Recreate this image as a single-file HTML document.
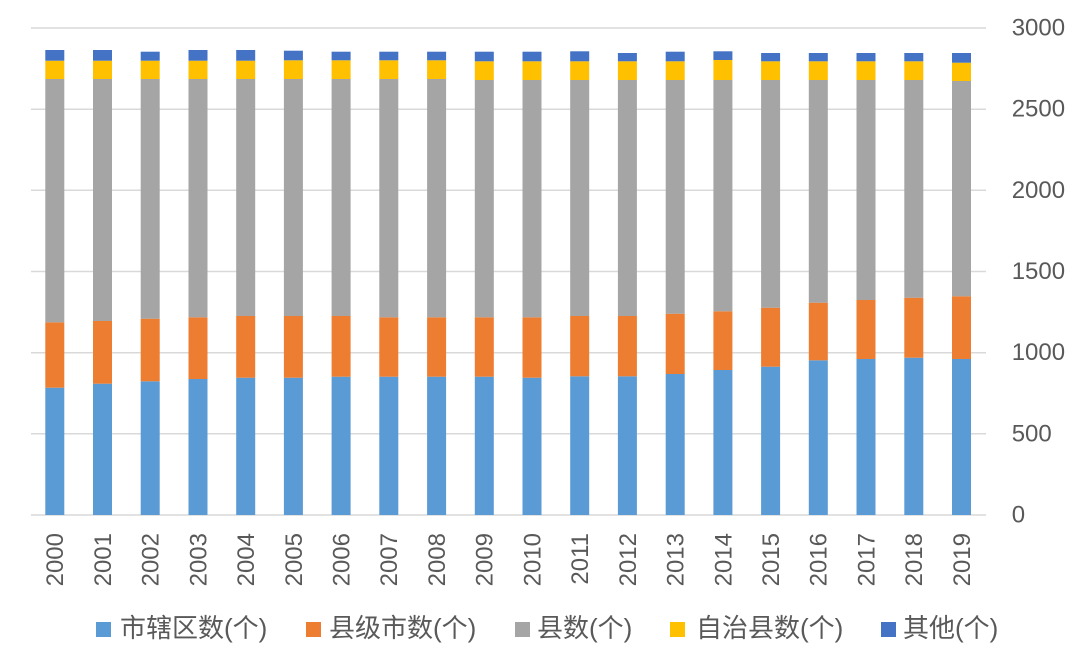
<!DOCTYPE html>
<html>
<head>
<meta charset="utf-8">
<style>
html,body{margin:0;padding:0;background:#fff;}
svg{display:block;}
text{font-family:"Liberation Sans","Noto Sans CJK SC",sans-serif;fill:#595959;}
</style>
</head>
<body>
<svg width="1080" height="672" viewBox="0 0 1080 672" xmlns="http://www.w3.org/2000/svg">
<rect width="1080" height="672" fill="#fff"/>
<g stroke="#d9d9d9" stroke-width="1.5">
<line x1="31" y1="28" x2="986" y2="28"/>
<line x1="31" y1="109.2" x2="986" y2="109.2"/>
<line x1="31" y1="190.3" x2="986" y2="190.3"/>
<line x1="31" y1="271.5" x2="986" y2="271.5"/>
<line x1="31" y1="352.7" x2="986" y2="352.7"/>
<line x1="31" y1="433.8" x2="986" y2="433.8"/>
<line x1="31" y1="515" x2="986" y2="515"/>
</g>
<g font-size="24" dominant-baseline="central">
<text x="1011.7" y="28">3000</text>
<text x="1011.7" y="109.2">2500</text>
<text x="1011.7" y="190.3">2000</text>
<text x="1011.7" y="271.5">1500</text>
<text x="1011.7" y="352.7">1000</text>
<text x="1011.7" y="433.8">500</text>
<text x="1011.7" y="515">0</text>
</g>
<g>
<!-- 2000 -->
<rect x="45.3" y="387.7" width="19" height="127.3" fill="#5b9bd5"/>
<rect x="45.3" y="322.3" width="19" height="65.4" fill="#ed7d31"/>
<rect x="45.3" y="79" width="19" height="243.3" fill="#a5a5a5"/>
<rect x="45.3" y="60.7" width="19" height="18.3" fill="#ffc000"/>
<rect x="45.3" y="50" width="19" height="10.7" fill="#4472c4"/>
<!-- 2001 -->
<rect x="93" y="383.7" width="19" height="131.3" fill="#5b9bd5"/>
<rect x="93" y="321" width="19" height="62.7" fill="#ed7d31"/>
<rect x="93" y="79" width="19" height="242" fill="#a5a5a5"/>
<rect x="93" y="60.7" width="19" height="18.3" fill="#ffc000"/>
<rect x="93" y="50" width="19" height="10.7" fill="#4472c4"/>
<!-- 2002 -->
<rect x="140.7" y="381.3" width="19" height="133.7" fill="#5b9bd5"/>
<rect x="140.7" y="318.7" width="19" height="62.6" fill="#ed7d31"/>
<rect x="140.7" y="79" width="19" height="239.7" fill="#a5a5a5"/>
<rect x="140.7" y="60.7" width="19" height="18.3" fill="#ffc000"/>
<rect x="140.7" y="51.7" width="19" height="9" fill="#4472c4"/>
<!-- 2003 -->
<rect x="188.5" y="379" width="19" height="136" fill="#5b9bd5"/>
<rect x="188.5" y="317.3" width="19" height="61.7" fill="#ed7d31"/>
<rect x="188.5" y="79" width="19" height="238.3" fill="#a5a5a5"/>
<rect x="188.5" y="60.7" width="19" height="18.3" fill="#ffc000"/>
<rect x="188.5" y="50" width="19" height="10.7" fill="#4472c4"/>
<!-- 2004 -->
<rect x="236.2" y="377.7" width="19" height="137.3" fill="#5b9bd5"/>
<rect x="236.2" y="316" width="19" height="61.7" fill="#ed7d31"/>
<rect x="236.2" y="79" width="19" height="237" fill="#a5a5a5"/>
<rect x="236.2" y="60.7" width="19" height="18.3" fill="#ffc000"/>
<rect x="236.2" y="50" width="19" height="10.7" fill="#4472c4"/>
<!-- 2005 -->
<rect x="283.9" y="377.7" width="19" height="137.3" fill="#5b9bd5"/>
<rect x="283.9" y="316" width="19" height="61.7" fill="#ed7d31"/>
<rect x="283.9" y="79" width="19" height="237" fill="#a5a5a5"/>
<rect x="283.9" y="60.3" width="19" height="18.7" fill="#ffc000"/>
<rect x="283.9" y="50.7" width="19" height="9.6" fill="#4472c4"/>
<!-- 2006 -->
<rect x="331.6" y="376.7" width="19" height="138.3" fill="#5b9bd5"/>
<rect x="331.6" y="316" width="19" height="60.7" fill="#ed7d31"/>
<rect x="331.6" y="79" width="19" height="237" fill="#a5a5a5"/>
<rect x="331.6" y="60.3" width="19" height="18.7" fill="#ffc000"/>
<rect x="331.6" y="51.7" width="19" height="8.6" fill="#4472c4"/>
<!-- 2007 -->
<rect x="379.3" y="376.7" width="19" height="138.3" fill="#5b9bd5"/>
<rect x="379.3" y="317.3" width="19" height="59.4" fill="#ed7d31"/>
<rect x="379.3" y="79" width="19" height="238.3" fill="#a5a5a5"/>
<rect x="379.3" y="60.3" width="19" height="18.7" fill="#ffc000"/>
<rect x="379.3" y="51.7" width="19" height="8.6" fill="#4472c4"/>
<!-- 2008 -->
<rect x="427.1" y="376.7" width="19" height="138.3" fill="#5b9bd5"/>
<rect x="427.1" y="317.3" width="19" height="59.4" fill="#ed7d31"/>
<rect x="427.1" y="79" width="19" height="238.3" fill="#a5a5a5"/>
<rect x="427.1" y="60.3" width="19" height="18.7" fill="#ffc000"/>
<rect x="427.1" y="51.7" width="19" height="8.6" fill="#4472c4"/>
<!-- 2009 -->
<rect x="474.8" y="376.7" width="19" height="138.3" fill="#5b9bd5"/>
<rect x="474.8" y="317.3" width="19" height="59.4" fill="#ed7d31"/>
<rect x="474.8" y="80" width="19" height="237.3" fill="#a5a5a5"/>
<rect x="474.8" y="61.3" width="19" height="18.7" fill="#ffc000"/>
<rect x="474.8" y="51.7" width="19" height="9.6" fill="#4472c4"/>
<!-- 2010 -->
<rect x="522.5" y="377.7" width="19" height="137.3" fill="#5b9bd5"/>
<rect x="522.5" y="317.3" width="19" height="60.4" fill="#ed7d31"/>
<rect x="522.5" y="80" width="19" height="237.3" fill="#a5a5a5"/>
<rect x="522.5" y="61.3" width="19" height="18.7" fill="#ffc000"/>
<rect x="522.5" y="51.7" width="19" height="9.6" fill="#4472c4"/>
<!-- 2011 -->
<rect x="570.2" y="376.3" width="19" height="138.7" fill="#5b9bd5"/>
<rect x="570.2" y="316" width="19" height="60.3" fill="#ed7d31"/>
<rect x="570.2" y="80" width="19" height="236" fill="#a5a5a5"/>
<rect x="570.2" y="61.3" width="19" height="18.7" fill="#ffc000"/>
<rect x="570.2" y="51.3" width="19" height="10" fill="#4472c4"/>
<!-- 2012 -->
<rect x="617.9" y="376.3" width="19" height="138.7" fill="#5b9bd5"/>
<rect x="617.9" y="316" width="19" height="60.3" fill="#ed7d31"/>
<rect x="617.9" y="80" width="19" height="236" fill="#a5a5a5"/>
<rect x="617.9" y="61.3" width="19" height="18.7" fill="#ffc000"/>
<rect x="617.9" y="53" width="19" height="8.3" fill="#4472c4"/>
<!-- 2013 -->
<rect x="665.7" y="374" width="19" height="141" fill="#5b9bd5"/>
<rect x="665.7" y="313.7" width="19" height="60.3" fill="#ed7d31"/>
<rect x="665.7" y="80" width="19" height="233.7" fill="#a5a5a5"/>
<rect x="665.7" y="61.3" width="19" height="18.7" fill="#ffc000"/>
<rect x="665.7" y="51.7" width="19" height="9.6" fill="#4472c4"/>
<!-- 2014 -->
<rect x="713.4" y="370" width="19" height="145" fill="#5b9bd5"/>
<rect x="713.4" y="311.3" width="19" height="58.7" fill="#ed7d31"/>
<rect x="713.4" y="80" width="19" height="231.3" fill="#a5a5a5"/>
<rect x="713.4" y="60" width="19" height="20" fill="#ffc000"/>
<rect x="713.4" y="51.3" width="19" height="8.7" fill="#4472c4"/>
<!-- 2015 -->
<rect x="761.1" y="366.7" width="19" height="148.3" fill="#5b9bd5"/>
<rect x="761.1" y="307.7" width="19" height="59" fill="#ed7d31"/>
<rect x="761.1" y="80" width="19" height="227.7" fill="#a5a5a5"/>
<rect x="761.1" y="61.3" width="19" height="18.7" fill="#ffc000"/>
<rect x="761.1" y="53" width="19" height="8.3" fill="#4472c4"/>
<!-- 2016 -->
<rect x="808.8" y="360.3" width="19" height="154.7" fill="#5b9bd5"/>
<rect x="808.8" y="302.7" width="19" height="57.6" fill="#ed7d31"/>
<rect x="808.8" y="80" width="19" height="222.7" fill="#a5a5a5"/>
<rect x="808.8" y="61.3" width="19" height="18.7" fill="#ffc000"/>
<rect x="808.8" y="53" width="19" height="8.3" fill="#4472c4"/>
<!-- 2017 -->
<rect x="856.5" y="359" width="19" height="156" fill="#5b9bd5"/>
<rect x="856.5" y="300" width="19" height="59" fill="#ed7d31"/>
<rect x="856.5" y="80" width="19" height="220" fill="#a5a5a5"/>
<rect x="856.5" y="61.3" width="19" height="18.7" fill="#ffc000"/>
<rect x="856.5" y="53" width="19" height="8.3" fill="#4472c4"/>
<!-- 2018 -->
<rect x="904.3" y="357.7" width="19" height="157.3" fill="#5b9bd5"/>
<rect x="904.3" y="297.7" width="19" height="60" fill="#ed7d31"/>
<rect x="904.3" y="80" width="19" height="217.7" fill="#a5a5a5"/>
<rect x="904.3" y="61.3" width="19" height="18.7" fill="#ffc000"/>
<rect x="904.3" y="53" width="19" height="8.3" fill="#4472c4"/>
<!-- 2019 -->
<rect x="952" y="359" width="19" height="156" fill="#5b9bd5"/>
<rect x="952" y="296.3" width="19" height="62.7" fill="#ed7d31"/>
<rect x="952" y="81" width="19" height="215.3" fill="#a5a5a5"/>
<rect x="952" y="62.7" width="19" height="18.3" fill="#ffc000"/>
<rect x="952" y="53" width="19" height="9.7" fill="#4472c4"/>
</g>
<g font-size="24" text-anchor="end">
<text transform="translate(63.2,533) rotate(-90)">2000</text>
<text transform="translate(110.9,533) rotate(-90)">2001</text>
<text transform="translate(158.6,533) rotate(-90)">2002</text>
<text transform="translate(206.4,533) rotate(-90)">2003</text>
<text transform="translate(254.1,533) rotate(-90)">2004</text>
<text transform="translate(301.8,533) rotate(-90)">2005</text>
<text transform="translate(349.5,533) rotate(-90)">2006</text>
<text transform="translate(397.2,533) rotate(-90)">2007</text>
<text transform="translate(445,533) rotate(-90)">2008</text>
<text transform="translate(492.7,533) rotate(-90)">2009</text>
<text transform="translate(540.4,533) rotate(-90)">2010</text>
<text transform="translate(588.1,533) rotate(-90)">2011</text>
<text transform="translate(635.8,533) rotate(-90)">2012</text>
<text transform="translate(683.6,533) rotate(-90)">2013</text>
<text transform="translate(731.3,533) rotate(-90)">2014</text>
<text transform="translate(779,533) rotate(-90)">2015</text>
<text transform="translate(826.7,533) rotate(-90)">2016</text>
<text transform="translate(874.4,533) rotate(-90)">2017</text>
<text transform="translate(922.2,533) rotate(-90)">2018</text>
<text transform="translate(969.9,533) rotate(-90)">2019</text>
</g>
<g>
<rect x="96" y="622" width="15" height="15" fill="#5b9bd5"/>
<rect x="306" y="622" width="15" height="15" fill="#ed7d31"/>
<rect x="515" y="622" width="15" height="15" fill="#a5a5a5"/>
<rect x="670" y="622" width="15" height="15" fill="#ffc000"/>
<rect x="881" y="622" width="15" height="15" fill="#4472c4"/>
</g>
<g font-size="26" dominant-baseline="central">
<text x="120" y="628">市辖区数(个)</text>
<text x="329" y="628">县级市数(个)</text>
<text x="537" y="628">县数(个)</text>
<text x="696" y="628">自治县数(个)</text>
<text x="903" y="628">其他(个)</text>
</g>
</svg>
</body>
</html>
